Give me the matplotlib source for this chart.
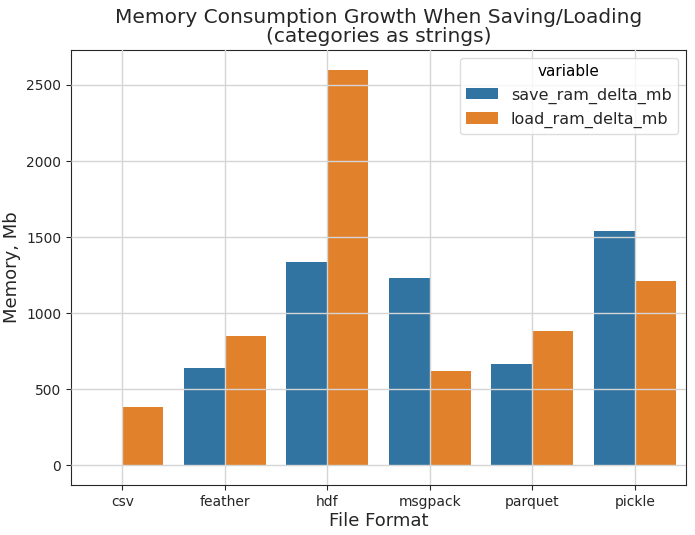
import numpy as np
import matplotlib
matplotlib.use("Agg")
import matplotlib.pyplot as plt

formats = ["csv", "feather", "hdf", "msgpack", "parquet", "pickle"]
save_ram_delta_mb = [0, 640, 1335, 1230, 664, 1539]
load_ram_delta_mb = [381, 849, 2599, 618, 882, 1210]
series_names = ["save_ram_delta_mb", "load_ram_delta_mb"]
colors = ["#3274a1", "#e1812c"]

fig = plt.figure(figsize=(6.95, 5.35), dpi=100)
ax = fig.add_axes([71/695, 50/535, (686-71)/695, (485-50)/535])

x = np.arange(len(formats))
w = 0.4
ax.bar(x - w/2, save_ram_delta_mb, width=w, color=colors[0], label=series_names[0])
ax.bar(x + w/2, load_ram_delta_mb, width=w, color=colors[1], label=series_names[1])

ax.set_xlim(-0.5, len(formats) - 0.5)
ax.set_ylim(-130, 2730)
ax.set_xticks(x)
ax.set_xticklabels(formats)
ax.set_yticks([0, 500, 1000, 1500, 2000, 2500])
ax.tick_params(labelsize=10, colors="#262626")
ax.grid(True, color="#d5d5d5", linewidth=1)
ax.set_axisbelow(False)
for s in ax.spines.values():
    s.set_color("#262626")

ax.set_title("Memory Consumption Growth When Saving/Loading\n(categories as strings)",
             fontsize=14.5, color="#262626", linespacing=1.0)
ax.set_xlabel("File Format", fontsize=13, color="#262626", labelpad=2)
ax.set_ylabel("Memory, Mb", fontsize=13, color="#262626")

leg = ax.legend(title="variable", fontsize=11.5, title_fontsize=11, loc="upper right",
                edgecolor="#d5d5d5")
for t in leg.get_texts():
    t.set_color("#262626")

fig.savefig("out.png", dpi=100)
